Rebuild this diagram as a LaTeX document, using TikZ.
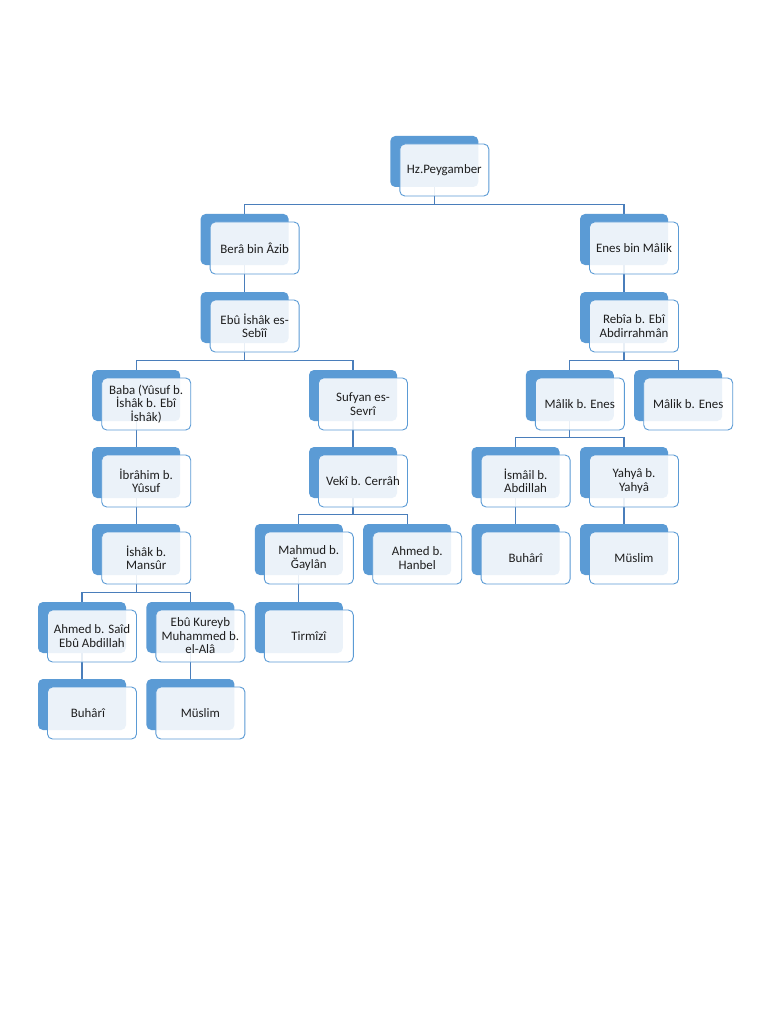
\documentclass[tikz,border=0pt]{standalone}
\usepackage{fontspec}
\setmainfont{Carlito}
\usetikzlibrary{backgrounds}
\definecolor{cardblue}{HTML}{5B9BD5}
\definecolor{linkblue}{HTML}{4A7EBB}
\definecolor{txt}{HTML}{1E1E1E}
\tikzset{
  backbox/.style={draw=none, fill=cardblue, rounded corners=5pt, minimum width=88pt, minimum height=51pt, inner sep=0pt},
  frontbox/.style={draw=cardblue, line width=0.9pt, fill=white, fill opacity=0.88, text opacity=1, rounded corners=5pt, minimum width=89pt, minimum height=52pt, inner sep=0pt, align=center, text=txt, font=\fontsize{12.9}{13.5}\selectfont},
  link/.style={draw=linkblue, line width=1.2pt}
}
\newcommand\card[4]{%
  \node[backbox] (#1b) at ({82+54.2*#2},{#3}) {};
  \node[frontbox] (#1) at ([xshift=10pt,yshift=-8.5pt]#1b.center) {#4};
}
\newcommand\linkto[2]{\draw[link] (#1b.center) |- ([yshift=9.5pt]#2b.north) -- (#2b.north);}
\begin{document}
\begin{tikzpicture}[x=1pt,y=-1pt]
\useasboundingbox (0,0) rectangle (768,1024);
\card{P}{6.5}{161.5}{Hz.Peygamber}
\card{Bera}{3}{239.5}{Berâ bin Âzib}
\card{Enes}{10}{239.5}{Enes bin Mâlik}
\card{EbuIshak}{3}{317.5}{Ebû İshâk es-\\Sebîî}
\card{Rebia}{10}{317.5}{Rebîa b. Ebî\\Abdirrahmân}
\card{Baba}{1}{395.5}{Baba (Yûsuf b.\\İshâk b. Ebî\\İshâk)}
\card{Sufyan}{5}{395.5}{Sufyan es-\\Sevrî}
\card{MalikA}{9}{395.5}{Mâlik b. Enes}
\card{MalikB}{11}{395.5}{Mâlik b. Enes}
\card{Ibrahim}{1}{472.5}{İbrâhim b.\\Yûsuf}
\card{Veki}{5}{472.5}{Vekî b. Cerrâh}
\card{Ismail}{8}{472.5}{İsmâil b.\\Abdillah}
\card{Yahya}{10}{472.5}{Yahyâ b.\\Yahyâ}
\card{IshakM}{1}{549.5}{İshâk b.\\Mansûr}
\card{Mahmud}{4}{549.5}{Mahmud b.\\Ğaylân}
\card{AhmedH}{6}{549.5}{Ahmed b.\\Hanbel}
\card{BuhariR}{8}{549.5}{Buhârî}
\card{MuslimR}{10}{549.5}{Müslim}
\card{AhmedS}{0}{627.5}{Ahmed b. Saîd\\Ebû Abdillah}
\card{EbuK}{2}{627.5}{Ebû Kureyb\\Muhammed b.\\el-Alâ}
\card{Tirmizi}{4}{627.5}{Tirmîzî}
\card{BuhariL}{0}{704.5}{Buhârî\hspace{8pt}}
\card{MuslimL}{2}{704.5}{Müslim}
\begin{scope}[on background layer]
\fill[white] (0,0) rectangle (768,1024);
\linkto{P}{Bera}
\linkto{P}{Enes}
\linkto{Bera}{EbuIshak}
\linkto{Enes}{Rebia}
\linkto{EbuIshak}{Baba}
\linkto{EbuIshak}{Sufyan}
\linkto{Rebia}{MalikA}
\linkto{Rebia}{MalikB}
\linkto{Baba}{Ibrahim}
\linkto{Sufyan}{Veki}
\linkto{MalikA}{Ismail}
\linkto{MalikA}{Yahya}
\linkto{Ibrahim}{IshakM}
\linkto{Veki}{Mahmud}
\linkto{Veki}{AhmedH}
\linkto{Ismail}{BuhariR}
\linkto{Yahya}{MuslimR}
\linkto{IshakM}{AhmedS}
\linkto{IshakM}{EbuK}
\linkto{Mahmud}{Tirmizi}
\linkto{AhmedS}{BuhariL}
\linkto{EbuK}{MuslimL}
\end{scope}
\end{tikzpicture}
\end{document}
